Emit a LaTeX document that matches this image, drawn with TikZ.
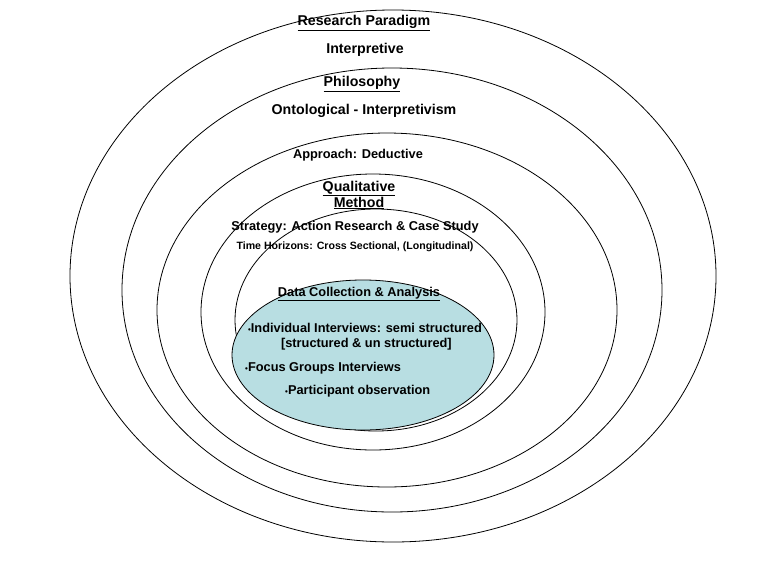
\documentclass[tikz,border=0pt]{standalone}
\usepackage{fontspec}
\setmainfont{Liberation Sans}
\begin{document}
\begin{tikzpicture}[x=1pt,y=-1pt,
  ring/.style={draw=black,line width=0.8pt},
  lbl/.style={font=\bfseries\fontsize{14.2}{16}\selectfont,align=center,inner sep=1pt},
  sm/.style={font=\bfseries\fontsize{12.8}{15}\selectfont,align=center,inner sep=1pt}]
\useasboundingbox (0,0) rectangle (768,576);
\path[ring] (393,276) ellipse [x radius=323,y radius=266];
\path[ring] (392,290) ellipse [x radius=270,y radius=222];
\path[ring] (387,310) ellipse [x radius=230,y radius=177];
\path[ring] (373,312) ellipse [x radius=172,y radius=138];
\path[ring] (376,320) ellipse [x radius=141,y radius=111];
\path[ring,fill={rgb,255:red,184;green,222;blue,226}] (363,355) ellipse [x radius=131,y radius=75];
\node[lbl] (rp) at (364,23) {\underline{Research Paradigm}};
\node[lbl] (ip) at (365,50) {Interpretive};
\node[lbl] (ph) at (362,84) {\underline{Philosophy}};
\node[lbl] (oi) at (364,111) {Ontological - Interpretivism};
\node[sm] (ap) at (358,155) {Approach: Deductive};
\node[lbl] (qm) at (359,195) {\underline{Qualitative}\\\underline{Method}};
\node[sm] (st) at (355,227) {Strategy: Action Research \& Case Study};
\node[font=\bfseries\fontsize{10.6}{12}\selectfont] (th) at (355,247) {Time Horizons: Cross Sectional, (Longitudinal)};
\node[sm] (dc) at (359,294) {\underline{Data Collection \& Analysis}};
\node[sm] (ii) at (365,337) {{\footnotesize\textbullet}Individual Interviews: semi structured\\\phantom{\footnotesize\textbullet}[structured \& un structured]};
\node[sm,anchor=west] (fg) at (244,368) {{\footnotesize\textbullet}Focus Groups Interviews};
\node[sm,anchor=west] (po) at (284,391) {{\footnotesize\textbullet}Participant observation};
\end{tikzpicture}
\end{document}
